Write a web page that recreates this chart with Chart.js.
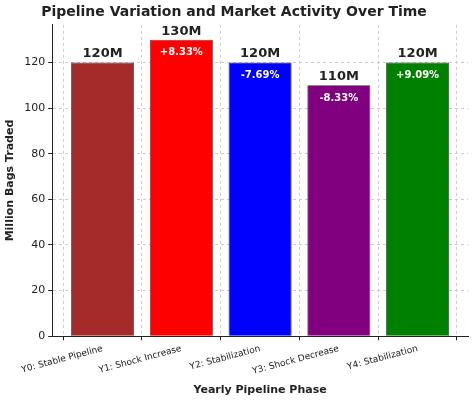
<!DOCTYPE html>
<html><head>
<script src="https://cdn.jsdelivr.net/npm/chart.js@4"></script>
<style>body{margin:0;background:#fff}#w{width:474px;height:401px}</style>
</head><body><div id="w"><canvas id="c"></canvas></div>
<script>
const phases = ['Y0: Stable Pipeline','Y1: Shock Increase','Y2: Stabilization','Y3: Shock Decrease','Y4: Stabilization'];
const bags = [120, 130, 120, 110, 120];
const changes = ['', '+8.33%', '-7.69%', '-8.33%', '+9.09%'];
const colors = ['#a52a2a','#ff0000','#0000ff','#800080','#008000'];

const labelPlugin = {
  id: 'labels',
  afterDatasetsDraw(chart) {
    const ctx = chart.ctx;
    const meta = chart.getDatasetMeta(0);
    ctx.save();
    ctx.textAlign = 'center';
    meta.data.forEach((bar, i) => {
      ctx.fillStyle = '#222';
      ctx.font = 'bold 13px "DejaVu Sans"';
      ctx.textBaseline = 'bottom';
      ctx.fillText(bags[i] + 'M', bar.x, bar.y - 2);
      if (changes[i]) {
        ctx.fillStyle = '#fff';
        ctx.font = 'bold 10px "DejaVu Sans"';
        ctx.textBaseline = 'middle';
        ctx.fillText(changes[i], bar.x, bar.y + 13);
      }
    });
    ctx.restore();
  }
};

new Chart(document.getElementById('c'), {
  type: 'bar',
  data: { datasets: [{ data: bags.map((v, i) => ({ x: i, y: v })), backgroundColor: colors, borderColor: '#333', borderWidth: 0.8, categoryPercentage: 1, barPercentage: 0.8 }] },
  options: {
    responsive: true, maintainAspectRatio: false, animation: false,
    layout: { padding: { right: 6, top: 2 } },
    plugins: {
      legend: { display: false }, tooltip: { enabled: false },
      title: { display: true, text: 'Pipeline Variation and Market Activity Over Time', color: '#222', font: { family: 'DejaVu Sans', size: 14, weight: 'bold' }, padding: { top: 2, bottom: 4 } }
    },
    scales: {
      x: {
        type: 'linear', min: -0.64, max: 4.64, offset: false,
        afterBuildTicks(s) { s.ticks = [0,1,2,3,4].map(v => ({ value: v })); },
        grid: { color: '#ccc', tickColor: '#222', tickLength: 4 },
        border: { color: '#222', dash: [3, 3] },
        ticks: { color: '#222', font: { family: 'DejaVu Sans', size: 9 }, maxRotation: 15, minRotation: 15, callback: v => phases[v] },
        title: { display: true, text: 'Yearly Pipeline Phase', color: '#222', font: { family: 'DejaVu Sans', size: 11, weight: 'bold' } }
      },
      y: {
        min: 0, max: 136.5,
        grid: { color: '#ccc', tickColor: '#222', tickLength: 4 },
        border: { color: '#222', dash: [3, 3] },
        afterBuildTicks(s) { s.ticks = [0,20,40,60,80,100,120].map(v => ({ value: v })); },
        ticks: { color: '#222', font: { family: 'DejaVu Sans', size: 11 } },
        title: { display: true, text: 'Million Bags Traded', color: '#222', font: { family: 'DejaVu Sans', size: 11, weight: 'bold' } }
      }
    }
  },
  plugins: [labelPlugin]
});
</script></body></html>
